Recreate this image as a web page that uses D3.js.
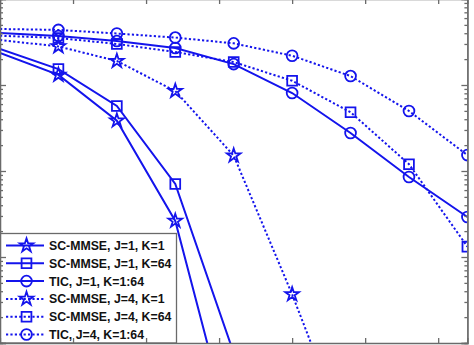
<!DOCTYPE html>
<html>
<head>
<meta charset="utf-8">
<script src="https://d3js.org/d3.v7.min.js"></script>
<style>
	body { margin: 0; background: #fff; }
	svg { display: block; }
</style>
</head>
<body>
<div id="chart"></div>
<script>
// SNR (axe x), un point tous les 2
var snr = [0, 2, 4, 6, 8, 10, 12, 14, 16];
var xTicks = [2.5, 5, 7.5, 10, 12.5, 15];

// BER (les derniers points sortent du cadre)
var scJ1K1 = [2.36e-2, 1.31e-2, 3.85e-3, 2.63e-4, 6.7e-7];
var scJ1K64 = [2.62e-2, 1.53e-2, 5.70e-3, 7.06e-4, 7.65e-6];
var ticJ1 = [4.03e-2, 3.72e-2, 3.25e-2, 2.69e-2, 1.75e-2, 8.07e-3, 2.77e-3, 8.51e-4, 2.92e-4];
var scJ4K1 = [3.33e-2, 2.81e-2, 1.90e-2, 8.51e-3, 1.51e-3, 3.68e-5, 6.5e-7];
var scJ4K64 = [3.74e-2, 3.52e-2, 3.00e-2, 2.42e-2, 1.85e-2, 1.12e-2, 4.82e-3, 1.20e-3, 1.32e-4];
var ticJ4 = [4.48e-2, 4.37e-2, 3.97e-2, 3.56e-2, 3.05e-2, 2.19e-2, 1.27e-2, 4.99e-3, 1.53e-3];

var labels = ["SC-MMSE, J=1, K=1", "SC-MMSE, J=1, K=64", "TIC, J=1, K=1:64",
	"SC-MMSE, J=4, K=1", "SC-MMSE, J=4, K=64", "TIC, J=4, K=1:64"];

var series = [
	{ name: labels[0], values: scJ1K1, marker: "star", dotted: false },
	{ name: labels[1], values: scJ1K64, marker: "square", dotted: false },
	{ name: labels[2], values: ticJ1, marker: "circle", dotted: false },
	{ name: labels[3], values: scJ4K1, marker: "star", dotted: true },
	{ name: labels[4], values: scJ4K64, marker: "square", dotted: true },
	{ name: labels[5], values: ticJ4, marker: "circle", dotted: true }
];

// attention: "top" est réservé par window, d'où les noms plot*
var width = 474,
	height = 345,
	plotLeft = 0,
	plotRight = 467.4,
	plotTop = -1,
	plotBottom = 343,
	blue = "#1414ec",
	axisColor = "#6a6a6a";

var x = d3.scaleLinear().domain([0, 16]).range([plotLeft, plotRight]);
var y = d3.scaleLog().domain([1e-5, 1e-1]).range([plotBottom, plotTop]);

var svg = d3.select("#chart").append("svg")
	.attr("width", width)
	.attr("height", height);

svg.append("clipPath").attr("id", "clip")
	.append("rect")
	.attr("x", plotLeft).attr("y", plotTop)
	.attr("width", plotRight - plotLeft).attr("height", plotBottom - plotTop);

// -----AXES (ticks à l'intérieur, style matlab)-----
var minor = [];
for (var e = -5; e < -1; e++) {
	for (var m = 2; m <= 9; m++) minor.push(m * Math.pow(10, e));
}
var major = [1e-5, 1e-4, 1e-3, 1e-2, 1e-1];

var axes = svg.append("g").attr("class", "axes");

axes.append("g")
	.attr("transform", "translate(0," + plotBottom + ")")
	.call(d3.axisBottom(x).tickValues(xTicks).tickSize(-5).tickFormat(""));
axes.append("g")
	.attr("transform", "translate(0," + plotTop + ")")
	.call(d3.axisTop(x).tickValues(xTicks).tickSize(-5).tickFormat(""));
axes.append("g")
	.attr("transform", "translate(" + plotLeft + ",0)")
	.call(d3.axisLeft(y).tickValues(major).tickSize(-6).tickFormat(""));
axes.append("g")
	.attr("transform", "translate(" + plotLeft + ",0)")
	.call(d3.axisLeft(y).tickValues(minor).tickSize(-3).tickFormat(""));
axes.append("g")
	.attr("transform", "translate(" + plotRight + ",0)")
	.call(d3.axisRight(y).tickValues(major).tickSize(-6).tickFormat(""));
axes.append("g")
	.attr("transform", "translate(" + plotRight + ",0)")
	.call(d3.axisRight(y).tickValues(minor).tickSize(-3).tickFormat(""));

axes.selectAll("path, line").attr("stroke", axisColor).attr("stroke-width", 1.3);

// -----COURBES-----
var line = d3.line()
	.x(function (d, i) { return x(snr[i]); })
	.y(function (d) { return y(d); });

function drawMarker(sel, type) {
	if (type === "circle") {
		sel.append("circle").attr("r", 5.4);
	} else if (type === "square") {
		sel.append("path").attr("d", d3.symbol().type(d3.symbolSquare).size(96)());
	} else {
		sel.append("path").attr("d", d3.symbol().type(d3.symbolStar).size(58)());
	}
	sel.selectAll("circle, path")
		.attr("fill", "none")
		.attr("stroke", blue)
		.attr("stroke-width", 1.8);
}

var plot = svg.append("g").attr("clip-path", "url(#clip)");

series.forEach(function (s) {
	plot.append("path")
		.datum(s.values)
		.attr("d", line)
		.attr("fill", "none")
		.attr("stroke", blue)
		.attr("stroke-width", 2)
		.attr("stroke-dasharray", s.dotted ? "2.2,2.2" : null);

	// le premier point (bord gauche) n'a pas de marqueur visible
	plot.selectAll(null)
		.data(s.values.slice(1))
		.enter().append("g")
		.attr("transform", function (d, i) {
			return "translate(" + x(snr[i + 1]) + "," + y(d) + ")";
		})
		.each(function () { drawMarker(d3.select(this), s.marker); });
});

// -----LÉGENDE-----
var legend = svg.append("g").attr("class", "legend");

legend.append("rect")
	.attr("x", -2).attr("y", 233.5)
	.attr("width", 178.5).attr("height", plotBottom - 233.5)
	.attr("fill", "#fff")
	.attr("stroke", axisColor)
	.attr("stroke-width", 1.3);

var rows = legend.selectAll("g.row")
	.data(series)
	.enter().append("g")
	.attr("class", "row")
	.attr("transform", function (d, i) {
		return "translate(0," + (245.5 + i * 17.8) + ")";
	});

rows.append("line")
	.attr("x1", 6).attr("x2", 44)
	.attr("stroke", blue)
	.attr("stroke-width", 2)
	.attr("stroke-dasharray", function (d) { return d.dotted ? "2.2,2.2" : null; });

rows.append("g")
	.attr("transform", "translate(26.5,0)")
	.each(function (d) { drawMarker(d3.select(this), d.marker); });

rows.append("text")
	.attr("x", 49)
	.attr("dy", "0.36em")
	.attr("font-family", "Liberation Sans, Arial, sans-serif")
	.attr("font-weight", "bold")
	.attr("font-size", "12.3px")
	.attr("fill", "#111")
	.text(function (d) { return d.name; });

// remettre les axes par dessus la légende
axes.raise();
</script>
</body>
</html>
